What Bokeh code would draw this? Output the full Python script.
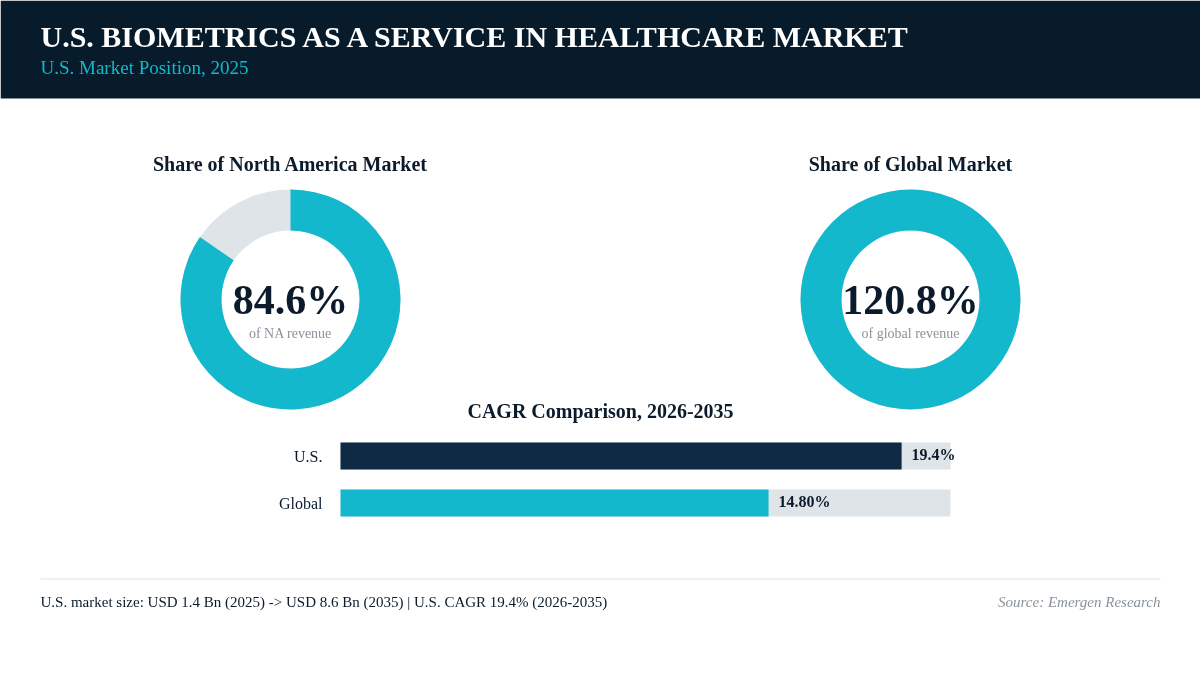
from bokeh.plotting import figure
from bokeh.models import Range1d, ColumnDataSource
from bokeh.embed import file_html
from bokeh.resources import INLINE
import math

TITLE = "U.S. BIOMETRICS AS A SERVICE IN HEALTHCARE MARKET"
SUBTITLE = "U.S. Market Position, 2025"
donut_titles = ["Share of North America Market", "Share of Global Market"]
donut_values = [84.6, 120.8]
donut_labels = ["84.6%", "120.8%"]
donut_subs = ["of NA revenue", "of global revenue"]
bar_title = "CAGR Comparison, 2026-2035"
bar_categories = ["U.S.", "Global"]
bar_values = [19.4, 14.8]
bar_labels = ["19.4%", "14.80%"]
bar_max = 21.09
FOOT_L = "U.S. market size: USD 1.4 Bn (2025) -> USD 8.6 Bn (2035)  |  U.S. CAGR 19.4% (2026-2035)"
FOOT_R = "Source: Emergen Research"

NAVY, TEAL, GREY, INK = "#071b2a", "#14b8cc", "#dfe4e9", "#0b1b2b"
BAR_NAVY = "#0f2a44"
FONT = "Liberation Sans"

W, H = 1200, 675
p = figure(width=W, height=H, output_backend="svg", toolbar_location=None,
           x_range=Range1d(0, W), y_range=Range1d(H, 0),
           min_border=0, outline_line_color=None, x_axis_location=None, y_axis_location=None,
           styles={"position": "fixed", "left": "0", "top": "0"})
p.grid.visible = False
p.background_fill_color = "white"
p.border_fill_color = "white"

def txt(x, y, s, size, color, weight="normal", align="left", style=None):
    p.text([x], [y], text=[s], text_font=FONT, text_font_size=f"{size}px", text_color=color,
           text_font_style=(style or weight), text_align=align, text_baseline="middle")

p.quad(left=[0], right=[W], top=[0], bottom=[98], fill_color=NAVY, line_color=None)
t = p.text([40], [36], text=[TITLE], text_font=FONT, text_font_size="30px", text_color="white",
           text_font_style="bold", text_align="left", text_baseline="middle")
txt(40, 66.5, SUBTITLE, 19, TEAL)

OUT, INN = 110, 69
for cx, title, val, lab, sub in zip([290, 910], donut_titles, donut_values, donut_labels, donut_subs):
    txt(cx, 163, title, 20, INK, "bold", "center")
    p.annular_wedge([cx], [299], INN, OUT, [0], [2 * math.pi], fill_color=GREY, line_color=None)
    frac = min(val, 100) / 100
    if frac >= 1:
        p.annular_wedge([cx], [299], INN, OUT, [0], [2 * math.pi], fill_color=TEAL, line_color=None)
    else:
        top = math.pi / 2
        p.annular_wedge([cx], [299], INN, OUT, [top - 2 * math.pi * frac], [top],
                        fill_color=TEAL, line_color=None)
    txt(cx, 299, lab, 42, INK, "bold", "center")
    txt(cx, 333, sub, 14, "#8a939b", "normal", "center")

txt(600, 410, bar_title, 20, INK, "bold", "center")

# bar scale: value axis of the comparison panel
S = 610 / bar_max
p.extra_x_ranges = {"cagr": Range1d(-340 / S, (W - 340) / S)}
rows = [455.5, 502.5]
src = ColumnDataSource(dict(y=rows, v=bar_values, m=[bar_max] * 2, c=[BAR_NAVY, TEAL]))
p.hbar(y="y", left=0, right="m", height=27, source=src, x_range_name="cagr",
       fill_color=GREY, line_color=None)
p.hbar(y="y", left=0, right="v", height=27, source=src, x_range_name="cagr",
       fill_color="c", line_color=None)
for y, cat, v, lab in zip(rows, bar_categories, bar_values, bar_labels):
    txt(322, y, cat, 16, INK, "normal", "right")
    p.text([v], [y - 2], text=[lab], x_offset=10, x_range_name="cagr", text_font=FONT,
           text_font_size="16px", text_color=INK, text_font_style="bold",
           text_align="left", text_baseline="middle")

p.segment([40], [578.5], [1160], [578.5], line_color="#dfe3e6", line_width=1)
txt(40, 601.5, FOOT_L, 15, INK)
txt(1160, 601.5, FOOT_R, 15, "#8a939b", "normal", "right", "italic")

open("out.html", "w").write(file_html(p, INLINE))
